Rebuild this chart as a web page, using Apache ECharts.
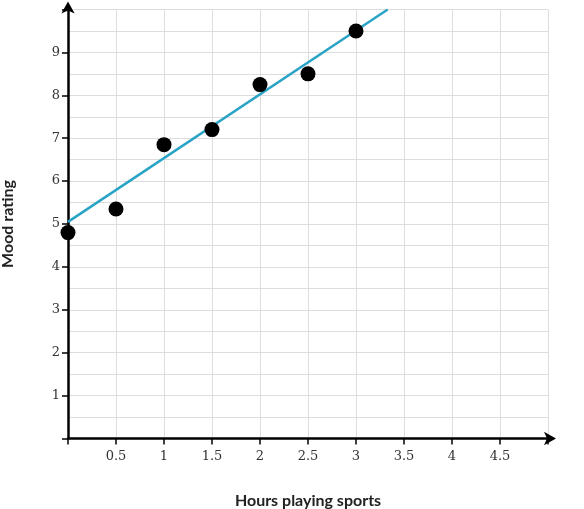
<!DOCTYPE html><html><head><meta charset="utf-8"><script src="https://cdn.jsdelivr.net/npm/echarts@6/dist/echarts.min.js"></script></head><body style="margin:0"><div id="c" style="width:584px;height:509px"></div><script>
const hours=[0,0.5,1,1.5,2,2.5,3];
const mood=[4.8,5.35,6.85,7.2,8.25,8.5,9.5];
const fitLine=[[0,5.05],[3.33,10]];
const xTicks=['0.5','1','1.5','2','2.5','3','3.5','4','4.5'];
const yTicks=['1','2','3','4','5','6','7','8','9'];
const c=echarts.init(document.getElementById('c'));
const lab={fontFamily:'DejaVu Serif',fontSize:13,color:'#333'};
c.setOption({animation:false,
grid:{left:68,right:36,top:9.5,bottom:70.5,containLabel:false,outerBoundsMode:'none'},
xAxis:{type:'value',min:0,max:5,interval:0.5,name:'Hours playing sports',nameLocation:'middle',nameGap:54,
 nameTextStyle:{fontFamily:'Lato',fontWeight:'bold',fontSize:16,color:'#222'},
 axisLine:{lineStyle:{color:'#000',width:2.5},symbol:['none','arrow'],symbolSize:[10,12],symbolOffset:[0,8]},
 axisTick:{show:true,inside:false,length:6,lineStyle:{color:'#000',width:1.5}},
 axisLabel:Object.assign({margin:12,formatter:v=>xTicks.includes(String(v))?String(v):''},lab),
 splitLine:{lineStyle:{color:'#ddd'}}},
yAxis:{type:'value',min:0,max:10,interval:1,name:'Mood rating',nameLocation:'middle',nameGap:52,nameRotate:90,
 nameTextStyle:{fontFamily:'Lato',fontWeight:'bold',fontSize:16,color:'#222'},
 axisLine:{lineStyle:{color:'#000',width:2.5},symbol:['none','arrow'],symbolSize:[10,12],symbolOffset:[0,8]},
 axisTick:{show:true,length:6,lineStyle:{color:'#000',width:1.5}},
 axisLabel:Object.assign({margin:8,formatter:v=>yTicks.includes(String(v))?String(v):''},lab),
 splitLine:{lineStyle:{color:'#ddd'}},
 minorTick:{show:false,splitNumber:2},minorSplitLine:{show:true,lineStyle:{color:'#ddd'}}},
series:[
{type:'line',data:fitLine,symbol:'none',lineStyle:{color:'#29a3c6',width:2.5},z:2},
{type:'scatter',data:hours.map((h,i)=>[h,mood[i]]),symbolSize:15,itemStyle:{color:'#000',opacity:1},z:3}
]});
</script></body></html>
